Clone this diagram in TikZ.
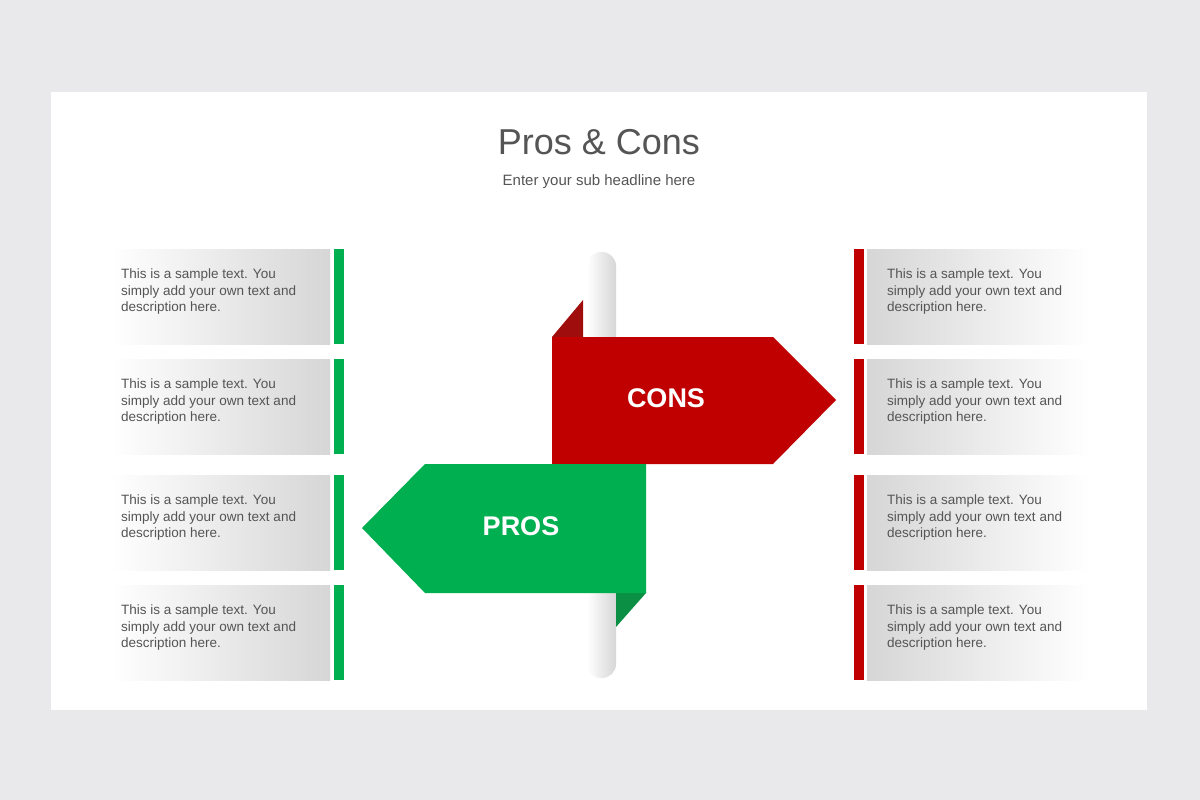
\documentclass[tikz,border=0pt]{standalone}
\usepackage{fontspec}
\setmainfont{Liberation Sans}
\begin{document}
\begin{tikzpicture}[x=1pt,y=-1pt,
  desc/.style={anchor=north west,align=left,text=txt,font=\fontsize{13.5}{16.5}\selectfont,inner sep=0pt},
  lbox/.style={left color=white,right color=boxg,draw=none},
  rbox/.style={left color=boxg,right color=white,draw=none}]
\definecolor{bg}{HTML}{E9E8EA}
\definecolor{txt}{HTML}{555555}
\definecolor{boxg}{HTML}{D6D6D6}
\definecolor{cred}{HTML}{C00000}
\definecolor{cdred}{HTML}{A00D0D}
\definecolor{cgreen}{HTML}{00AF50}
\definecolor{cdgreen}{HTML}{0A8F44}
\useasboundingbox (0,0) rectangle (1200,800);
\fill[bg] (0,0) rectangle (1200,800);
\fill[white] (51,92) rectangle (1147,710);
\node[text=txt,font=\fontsize{36}{40}\selectfont] (title) at (599,142) {Pros \& Cons};
\node[text=txt,font=\fontsize{15}{18}\selectfont] (sub) at (599,182) {Enter your sub headline here};
\foreach \y [count=\i] in {249,359,475,585}{
  \shade[lbox] (110,\y) rectangle (330,\y+95);
  \fill[cgreen] (334,\y) rectangle (344,\y+95);
  \node[desc] (l\i) at (121,\y+20) {This is a sample text. You\\simply add your own text and\\description here.};
  \shade[rbox] (867,\y) rectangle (1090,\y+95);
  \fill[cred] (854,\y) rectangle (864,\y+95);
  \node[desc] (r\i) at (887,\y+20) {This is a sample text. You\\simply add your own text and\\description here.};
}
\shade[left color=white,right color=boxg,rounded corners=14] (587,252) rectangle (616,678);
\fill[cdred] (552,337) -- (583,300) -- (583,337) -- cycle;
\fill[cdgreen] (616,593) -- (646,593) -- (616,627) -- cycle;
\fill[cred] (552,337) -- (773,337) -- (836,400) -- (773,464) -- (552,464) -- cycle;
\fill[cgreen] (646,464) -- (425,464) -- (362,528) -- (425,593) -- (646,593) -- cycle;
\node[white,font=\bfseries\fontsize{27}{30}\selectfont] (cons) at (666,398) {CONS};
\node[white,font=\bfseries\fontsize{27}{30}\selectfont] (pros) at (521,526) {PROS};
\end{tikzpicture}
\end{document}
